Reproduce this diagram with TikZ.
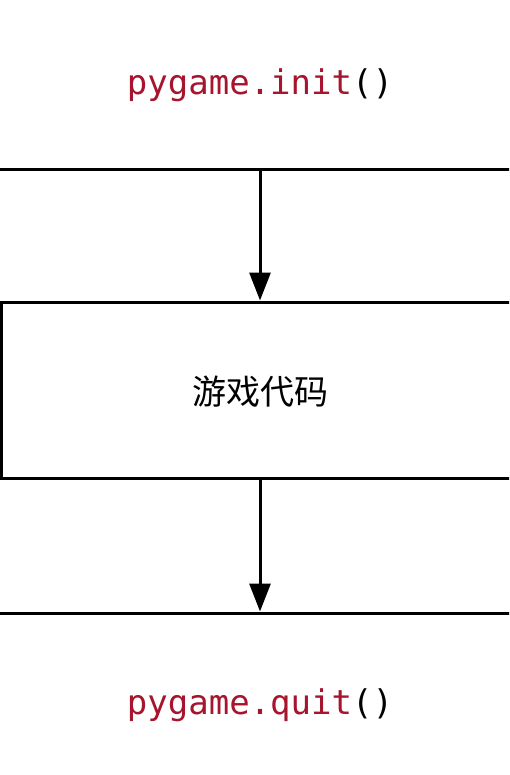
\documentclass[tikz,border=0pt]{standalone}
\usepackage{fontspec}
\newfontfamily\codefont{DejaVu Sans Mono}
\newfontfamily\cjkfont{Noto Sans CJK SC}
\usetikzlibrary{arrows.meta}
\usetikzlibrary{positioning}
\definecolor{pyred}{RGB}{166,20,45}
\tikzset{
  stage/.style={draw=black,line width=3pt,rectangle,inner sep=0pt},
  codetext/.style={font=\fontsize{34}{40}\selectfont\codefont},
  flow/.style={-{Triangle[length=28pt,width=21pt]},line width=3pt}
}
\begin{document}
\begin{tikzpicture}[x=1pt,y=-1pt]
\useasboundingbox (0,0) rectangle (509,775);
\clip (0,0) rectangle (509,775);
\node[stage,codetext,minimum width=560pt,minimum height=190pt] (init) at (260,75) {\raisebox{-10pt}[\height][\depth]{\textcolor{pyred}{pygame.init}()}};
\node[stage,minimum width=518pt,minimum height=176pt,font=\fontsize{34}{40}\selectfont\cjkfont] (game) at (260,390) {\raisebox{-2pt}[\height][\depth]{游戏代码}};
\node[stage,codetext,minimum width=560pt,minimum height=184pt] (quit) at (260,705) {\textcolor{pyred}{pygame.quit}()};

\draw[flow] (init.south) -- (game.north);
\draw[flow] (game.south) -- (quit.north);
\end{tikzpicture}
\end{document}
